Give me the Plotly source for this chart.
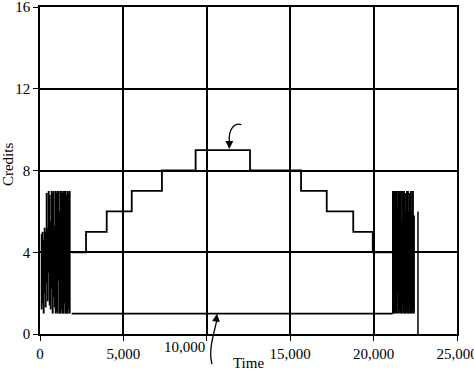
import plotly.graph_objects as go

# ---- data ----
x_ticks = [0, 5000, 10000, 15000, 20000, 25000]
x_tick_text = ["0", "5,000", "", "15,000", "20,000", "25,000"]
shifted_label = "10,000"   # this label is set left of its tick in the original
y_ticks = [0, 4, 8, 12, 16]

# upper step series (hv steps)
upper_time = [1900, 2760, 4000, 5500, 7310, 9330, 12590, 15650, 17190, 18780, 19950, 21140]
upper_credits = [4, 5, 6, 7, 8, 9, 8, 7, 6, 5, 4, 4]

# lower flat series
lower_time = [1900, 21140]
lower_credits = [1, 1]

# left oscillation burst (vertical strokes: time, low, high)
left_osc_time = [100, 160, 220, 280, 340, 400, 460, 520, 580, 640, 700, 760, 820, 880, 940,
                 1000, 1060, 1120, 1180, 1240, 1300, 1360, 1420, 1480, 1540, 1600, 1660, 1720, 1780]
left_osc_low = [1.2, 1.5, 1.0, 2.0, 1.3, 2.5, 1.6, 3.0, 1.4, 1.2, 2.2, 1.0, 1.8, 1.3, 1.0,
                1.1, 1.0, 2.6, 1.0, 1.0, 1.2, 1.0, 1.0, 1.5, 1.0, 1.0, 1.0, 1.2, 1.0]
left_osc_high = [4.9, 5.0, 4.6, 5.2, 5.0, 6.9, 5.2, 7.0, 6.8, 5.5, 7.0, 6.9, 7.0, 5.3, 7.0,
                 6.9, 7.0, 7.0, 6.0, 7.0, 7.0, 6.9, 7.0, 7.0, 7.0, 6.8, 7.0, 6.9, 7.0]

# right oscillation burst
right_osc_time = [21160, 21220, 21280, 21340, 21400, 21460, 21520, 21580, 21640, 21700, 21760,
                  21820, 21880, 21940, 22000, 22060, 22120, 22180, 22240, 22300, 22360, 22420]
right_osc_low = [1.0, 1.0, 1.0, 1.1, 1.0, 2.0, 1.0, 1.2, 1.0, 1.0, 1.5,
                 1.0, 1.0, 1.0, 1.2, 1.0, 1.0, 1.5, 1.0, 1.0, 1.2, 1.0]
right_osc_high = [7.0, 6.9, 7.0, 7.0, 7.0, 6.2, 7.0, 6.9, 7.0, 5.5, 7.0,
                  7.0, 6.9, 6.0, 7.0, 7.0, 6.0, 6.9, 7.0, 6.0, 7.0, 5.8]

# final drop stroke
end_time = [22660, 22660]
end_credits = [6.0, 0.0]


def strokes(ts, lo, hi):
    xs, ys = [], []
    for t, a, b in zip(ts, lo, hi):
        xs += [t, t, None]
        ys += [a, b, None]
    return xs, ys


FONT = "Liberation Serif"
fig = go.Figure()

lx, ly = strokes(left_osc_time, left_osc_low, left_osc_high)
rx, ry = strokes(right_osc_time, right_osc_low, right_osc_high)
fig.add_trace(go.Scatter(x=lx, y=ly, mode="lines", line=dict(color="black", width=1.9),
                         showlegend=False, hoverinfo="skip"))
fig.add_trace(go.Scatter(x=rx, y=ry, mode="lines", line=dict(color="black", width=1.9),
                         showlegend=False, hoverinfo="skip"))
fig.add_trace(go.Scatter(x=upper_time, y=upper_credits, mode="lines", line_shape="hv",
                         line=dict(color="black", width=1.8), showlegend=False))
fig.add_trace(go.Scatter(x=lower_time, y=lower_credits, mode="lines",
                         line=dict(color="black", width=1.8), showlegend=False))
fig.add_trace(go.Scatter(x=end_time, y=end_credits, mode="lines",
                         line=dict(color="black", width=1.5), showlegend=False))

# curved pointer arrows (paper coordinates)
fig.add_shape(type="path", xref="paper", yref="paper",
              path="M 0.483,0.640 C 0.466,0.648 0.452,0.625 0.454,0.590",
              line=dict(color="black", width=1.3))
fig.add_annotation(xref="paper", yref="paper", x=0.454, y=0.566, ax=0, ay=-8,
                   text="", showarrow=True, arrowhead=2, arrowsize=1.2, arrowwidth=1.3,
                   arrowcolor="black")
fig.add_shape(type="path", xref="paper", yref="paper",
              path="M 0.4125,-0.092 C 0.4030,-0.050 0.4170,0.000 0.4237,0.040",
              line=dict(color="black", width=1.3))
fig.add_annotation(xref="paper", yref="paper", x=0.4245, y=0.062, ax=-1, ay=8,
                   text="", showarrow=True, arrowhead=2, arrowsize=1.2, arrowwidth=1.3,
                   arrowcolor="black")

# 10,000 label placed left of its tick (as in the original)
fig.add_annotation(xref="paper", yref="paper", x=0.3465, y=-0.0387, text=shifted_label,
                   showarrow=False, xanchor="center", yanchor="middle",
                   font=dict(family=FONT, size=15, color="black"))

fig.add_annotation(xref="paper", yref="paper", x=-0.078, y=0.518, text="Credits",
                   textangle=-90, showarrow=False, xanchor="center", yanchor="middle",
                   font=dict(family=FONT, size=15, color="black"))

fig.update_xaxes(range=[0, 25000], tickvals=x_ticks, ticktext=x_tick_text,
                 showgrid=True, gridcolor="black", gridwidth=1.5,
                 showline=True, linecolor="black", linewidth=1.5, mirror=True,
                 ticks="outside", ticklen=5, tickcolor="black", zeroline=False,
                 ticklabeloverflow="allow",
                 title=dict(text="Time", standoff=2, font=dict(family=FONT, size=15, color="black")),
                 tickfont=dict(family=FONT, size=15, color="black"), automargin=False)
fig.update_yaxes(range=[0, 16], tickvals=y_ticks,
                 showgrid=True, gridcolor="black", gridwidth=1.5,
                 showline=True, linecolor="black", linewidth=1.5, mirror=True,
                 ticks="outside", ticklen=5, tickcolor="black", zeroline=False,
                 ticklabeloverflow="allow",
                 tickfont=dict(family=FONT, size=15, color="black"), automargin=False)

fig.update_layout(width=474, height=371, margin=dict(l=40, r=17, t=7, b=37),
                  paper_bgcolor="white", plot_bgcolor="white",
                  font=dict(family=FONT, size=15, color="black"), showlegend=False)

fig.write_html("out.html", config={"displayModeBar": False},
               post_script="document.body.style.margin='0px';document.body.style.padding='0px';")
